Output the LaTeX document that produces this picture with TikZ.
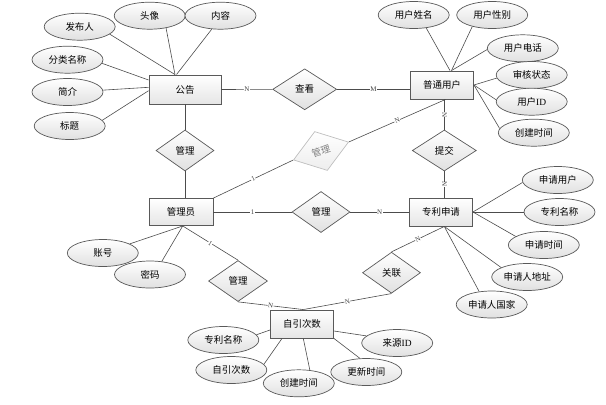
\documentclass[tikz,border=0pt]{standalone}
\usepackage{fontspec}
\setmainfont{Noto Sans CJK SC}
\newfontfamily\lat{Liberation Serif}
\usetikzlibrary{shapes.geometric}
\begin{document}
\begin{tikzpicture}[x=1bp,y=-1bp,
  every node/.style={font=\fontsize{9.5}{11}\selectfont},
  ent/.style={draw=black!65, line width=0.9bp, rectangle, top color=white, bottom color=black!10,
    minimum width=63bp, minimum height=28bp, inner sep=0pt},
  attr/.style={draw=black!65, line width=0.7bp, ellipse, top color=white, bottom color=black!12,
    minimum width=71bp, minimum height=27bp, inner sep=0pt},
  rel/.style={draw=black!65, line width=0.7bp, diamond, top color=white, bottom color=black!12,
    minimum width=58bp, minimum height=41bp, inner sep=0pt},
  lnk/.style={draw=black!70, line width=0.6bp},
  card/.style={font=\fontsize{7}{8}\selectfont\lat, text=black!75, fill=white, inner sep=0.4bp, sloped, midway}]
\useasboundingbox (0,0) rectangle (606,404);

% entities
\node[ent, minimum width=72bp, minimum height=29bp] (gg) at (185,89.5) {公告};
\node[ent] (yh) at (442,85) {普通用户};
\node[ent, minimum width=64bp, minimum height=27bp] (gly) at (181,212) {管理员};
\node[ent] (zl) at (441,212) {专利申请};
\node[ent] (zy) at (302,324) {自引次数};

% relations
\node[rel, minimum width=64bp] (ck) at (304.7,89.3) {查看};
\node[rel] (gl1) at (185,150.5) {管理};
\node[rel, minimum width=64bp] (tj) at (444.3,150.5) {提交};
\node[rel] (gm) at (321,212) {管理};
\node[rel] (glian) at (391.5,272.7) {关联};
\node[rel, minimum width=59bp] (gl2) at (238,281) {管理};
\node[rel, draw=black!25, top color=white, bottom color=black!7, text=black!50, rotate=18] (rg) at (321,151) {管理};

% attributes of 公告
\node[attr] (fbr) at (79.7,26.7) {发布人};
\node[attr] (tx) at (149.7,15.7) {头像};
\node[attr] (nr) at (220.5,15.7) {内容};
\node[attr] (fl) at (67.5,59.7) {分类名称};
\node[attr] (jj) at (67.5,92) {简介};
\node[attr] (bt) at (69.7,126) {标题};

% attributes of 普通用户
\node[attr] (xm) at (413.7,15) {用户姓名};
\node[attr] (xb) at (492.2,15) {用户性别};
\node[attr] (dh) at (522.8,48.3) {用户电话};
\node[attr] (sh) at (531.7,75) {审核状态};
\node[attr] (yid) at (531.7,101.7) {用户{\lat ID}};
\node[attr] (cj) at (533.8,132.7) {创建时间};

% attributes of 管理员
\node[attr] (zh) at (102.8,253) {账号};
\node[attr] (mm) at (150,274.5) {密码};

% attributes of 专利申请
\node[attr] (sqyh) at (557.8,180) {申请用户};
\node[attr] (zlmc) at (559.5,212) {专利名称};
\node[attr] (sqsj) at (543.8,245) {申请时间};
\node[attr] (dz) at (527.2,277) {申请人地址};
\node[attr] (gj) at (491.7,304.5) {申请人国家};

% attributes of 自引次数
\node[attr] (zlmc2) at (223.3,340) {专利名称};
\node[attr] (zycs) at (231.3,370) {自引次数};
\node[attr] (cj2) at (298.8,383.3) {创建时间};
\node[attr] (gx) at (366.3,372) {更新时间};
\node[attr] (ly) at (397.2,343) {来源{\lat ID}};

% attribute links
\draw[lnk] (fbr.-14) -- ([xshift=-10bp]gg.north);
\draw[lnk] (tx.-37) -- ([xshift=-10bp]gg.north);
\draw[lnk] (nr.-123) -- ([xshift=-8.5bp]gg.north);
\draw[lnk] (fl.-6) -- ([yshift=9.5bp]gg.west);
\draw[lnk] (jj.3) -- ([yshift=2.2bp]gg.west);
\draw[lnk] (bt.10) -- ([yshift=-1.2bp]gg.west);

\draw[lnk] (xm.-46) -- ([xshift=8bp]yh.north);
\draw[lnk] (xb.-150) -- ([xshift=9.5bp]yh.north);
\draw[lnk] (dh.182) -- ([xshift=9.5bp]yh.north);
\draw[lnk] (sh.185) -- (yh.east);
\draw[lnk] (yid.177) -- (yh.east);
\draw[lnk] (cj.173) -- (yh.east);

\draw[lnk] (zh) -- ([xshift=1.7bp]gly.south);
\draw[lnk] (mm.48) -- ([xshift=1.7bp]gly.south);

\draw[lnk] (sqyh.184) -- (zl.east);
\draw[lnk] (zlmc.west) -- (zl.east);
\draw[lnk] (sqsj.163) -- (zl.east);
\draw[lnk] (dz.160) -- ([xshift=3.3bp]zl.south);
\draw[lnk] (gj.134) -- ([xshift=3.3bp]zl.south);

\draw[lnk] (zlmc2.9) -- ([yshift=-6bp]zy.west);
\draw[lnk] (zycs.10) -- ([xshift=-20bp]zy.south);
\draw[lnk] (cj2.50) -- ([xshift=1.3bp]zy.south);
\draw[lnk] (gx.115) -- (zy.south east);
\draw[lnk] (ly.167) -- ([yshift=-7bp]zy.east);

% relationship links
\draw[lnk] (gg.east) -- node[card] {N} (ck.west);
\draw[lnk] (ck.east) -- node[card] {M} (ck.east -| yh.west);
\draw[lnk] (gg.south) -- (gl1.north);
\draw[lnk] (gl1.south) -- (gl1.south |- gly.north);
\draw[lnk] (tj.north |- yh.south) -- node[card] {N} (tj.north);
\draw[lnk] (tj.south) -- node[card] {N} (tj.south |- zl.north);
\draw[lnk] (gly.north east) -- node[card] {1} (rg.west);
\draw[lnk] (rg.east) -- node[card] {N} ([xshift=3.5bp]yh.south);
\draw[lnk] (gly.east) -- node[card] {1} (gm.west);
\draw[lnk] (gm.east) -- node[card] {N} (zl.west);
\draw[lnk] ([xshift=1.7bp]gly.south) -- node[card] {1} (gl2.north);
\draw[lnk] (gl2.south) -- node[card] {N} ([xshift=1.3bp]zy.north);
\draw[lnk] (glian.south) -- node[card] {N} ([xshift=1.3bp]zy.north);
\draw[lnk] (glian.north) -- node[card] {N} ([xshift=3.3bp]zl.south);
\end{tikzpicture}
\end{document}
